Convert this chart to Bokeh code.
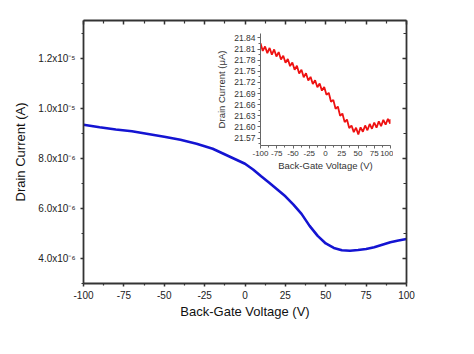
from bokeh.plotting import figure
from bokeh.models import Range1d, LinearAxis, FixedTicker, CustomJSTickFormatter
from bokeh.embed import file_html
from bokeh.resources import INLINE

# ---- main curve: drain current (A) vs back-gate voltage (V)
gate_v = [-100, -90, -80, -70, -60, -50, -40, -30, -20, -15, -10, -5, 0, 5, 10, 15, 20,
          25, 30, 35, 40, 45, 50, 55, 60, 65, 70, 75, 80, 85, 90, 95, 100]
drain_i = [9.34e-6, 9.24e-6, 9.15e-6, 9.08e-6, 8.97e-6, 8.86e-6, 8.74e-6, 8.58e-6, 8.38e-6,
           8.23e-6, 8.08e-6, 7.93e-6, 7.78e-6, 7.55e-6, 7.28e-6, 7.02e-6, 6.75e-6,
           6.48e-6, 6.15e-6, 5.78e-6, 5.30e-6, 4.90e-6, 4.60e-6, 4.42e-6, 4.33e-6, 4.31e-6,
           4.34e-6, 4.38e-6, 4.45e-6, 4.55e-6, 4.65e-6, 4.72e-6, 4.78e-6]

# ---- inset curve: drain current (uA) vs back-gate voltage (V)
inset_v = [-100, -96.5, -93, -89.5, -86, -82.5, -79, -75.5, -72, -68.5, -65, -61.5, -58,
           -54.5, -51, -47.5, -44, -40.5, -37, -33.5, -30, -26.5, -23, -19.5, -16, -12.5,
           -9, -5.5, -2, 1.5, 5, 8.5, 12, 15.5, 19, 22.5, 26, 29.5, 33, 36.5, 40, 43.5, 47,
           50.5, 54, 57.5, 61, 64.5, 68, 71.5, 75, 78.5, 82, 85.5, 89, 92.5, 96, 99.5, 100]
inset_i = [21.826, 21.805, 21.817, 21.799, 21.813, 21.795, 21.809, 21.790, 21.802, 21.782,
           21.792, 21.773, 21.783, 21.764, 21.774, 21.754, 21.765, 21.744, 21.754, 21.734,
           21.745, 21.725, 21.735, 21.716, 21.726, 21.707, 21.717, 21.698, 21.708, 21.687,
           21.692, 21.668, 21.673, 21.649, 21.655, 21.630, 21.636, 21.613, 21.620, 21.597,
           21.604, 21.586, 21.598, 21.580, 21.599, 21.587, 21.604, 21.591, 21.608, 21.595,
           21.612, 21.598, 21.615, 21.602, 21.619, 21.606, 21.622, 21.609, 21.621]

x_ticks = [-100, -75, -50, -25, 0, 25, 50, 75, 100]
x_minor = [-87.5, -62.5, -37.5, -12.5, 12.5, 37.5, 62.5, 87.5]
y_ticks = [4e-6, 6e-6, 8e-6, 1.0e-5, 1.2e-5]
y_minor = [3e-6, 5e-6, 7e-6, 9e-6, 1.1e-5, 1.3e-5]
inset_y_ticks = [21.57, 21.60, 21.63, 21.66, 21.69, 21.72, 21.75, 21.78, 21.81, 21.84]
inset_y_minor = [21.555, 21.585, 21.615, 21.645, 21.675, 21.705, 21.735, 21.765, 21.795, 21.825]

FONT = "Liberation Sans"
AX = "#333333"

sci_fmt = CustomJSTickFormatter(code="""
const sup = {'-':'\u207b','0':'\u2070','1':'\u00b9','2':'\u00b2','3':'\u00b3','4':'\u2074',
             '5':'\u2075','6':'\u2076','7':'\u2077','8':'\u2078','9':'\u2079'};
const e = Math.floor(Math.log10(Math.abs(tick)) + 1e-9);
const m = tick / Math.pow(10, e);
return m.toFixed(1) + 'x10' + String(e).split('').map(c => sup[c]).join('');
""")
int_fmt = CustomJSTickFormatter(code="return tick.toFixed(0);")
dec_fmt = CustomJSTickFormatter(code="return tick.toFixed(2);")
blank_fmt = CustomJSTickFormatter(code="return '';")

p = figure(width=474, height=354, x_range=Range1d(-100, 100), y_range=Range1d(3e-6, 1.35e-5),
           output_backend="svg", toolbar_location=None,
           min_border_left=83, min_border_right=68, min_border_top=20, min_border_bottom=71)
p.outline_line_color = None
p.xgrid.visible = False
p.ygrid.visible = False
p.background_fill_color = "white"
p.border_fill_color = "white"

p.line(gate_v, drain_i, line_color="#1414d2", line_width=2.6)

xt = FixedTicker(ticks=x_ticks, minor_ticks=x_minor)
yt = FixedTicker(ticks=y_ticks, minor_ticks=y_minor)

def style_axis(ax):
    ax.axis_line_color = AX
    ax.axis_line_width = 1.8
    ax.major_tick_line_color = AX
    ax.minor_tick_line_color = AX
    ax.major_tick_line_width = 1.5
    ax.minor_tick_line_width = 1.2
    ax.major_label_text_font = FONT
    ax.major_label_text_font_size = "10px"
    ax.major_label_text_color = "#222222"
    ax.axis_label_text_font = FONT
    ax.axis_label_text_font_size = "13px"
    ax.axis_label_text_font_style = "normal"
    ax.axis_label_text_color = "#111111"

xa = p.xaxis[0]
xa.ticker = xt
xa.formatter = int_fmt
style_axis(xa)
xa.major_tick_in = 0
xa.major_tick_out = 3
xa.minor_tick_in = 0
xa.minor_tick_out = 2
xa.major_label_standoff = 4
xa.axis_label = "Back-Gate Voltage (V)"
xa.axis_label_standoff = 2

ya = p.yaxis[0]
ya.ticker = yt
ya.formatter = sci_fmt
style_axis(ya)
ya.major_tick_in = 0
ya.major_tick_out = 3
ya.minor_tick_in = 0
ya.minor_tick_out = 2
ya.major_label_standoff = 5
ya.axis_label = "Drain Current (A)"
ya.axis_label_standoff = 7

top = LinearAxis(ticker=xt, formatter=blank_fmt)
style_axis(top)
top.major_tick_in = 4
top.major_tick_out = 0
top.minor_tick_in = 3
top.minor_tick_out = 0
p.add_layout(top, "above")

right = LinearAxis(ticker=yt, formatter=blank_fmt)
style_axis(right)
right.major_tick_in = 4
right.major_tick_out = 0
right.minor_tick_in = 3
right.minor_tick_out = 0
p.add_layout(right, "right")

# ---- inset
q = figure(width=181, height=152, x_range=Range1d(-100, 100), y_range=Range1d(21.55, 21.852),
           output_backend="svg", toolbar_location=None,
           min_border_left=48, min_border_right=3, min_border_top=9, min_border_bottom=31,
           styles={"position": "absolute", "left": "212px", "top": "24px"})
q.outline_line_color = None
q.xgrid.visible = False
q.ygrid.visible = False
q.background_fill_alpha = 0
q.border_fill_alpha = 0

q.line(inset_v, inset_i, line_color="#ee1111", line_width=1.8)

def style_inset(ax):
    ax.axis_line_color = "#666666"
    ax.axis_line_width = 1
    ax.major_tick_line_color = "#666666"
    ax.minor_tick_line_color = "#666666"
    ax.major_tick_in = 0
    ax.major_tick_out = 3
    ax.minor_tick_in = 0
    ax.minor_tick_out = 2
    ax.major_label_text_font = FONT
    ax.major_label_text_font_size = "8.5px"
    ax.major_label_text_color = "#333333"
    ax.axis_label_text_font = FONT
    ax.axis_label_text_font_size = "9.5px"
    ax.axis_label_text_font_style = "normal"
    ax.axis_label_text_color = "#333333"

qx = q.xaxis[0]
qx.ticker = FixedTicker(ticks=x_ticks, minor_ticks=x_minor)
qx.formatter = int_fmt
style_inset(qx)
qx.major_label_text_font_size = "8px"
qx.major_label_standoff = 2
qx.axis_label = "Back-Gate Voltage (V)"
qx.axis_label_standoff = 1

qy = q.yaxis[0]
qy.ticker = FixedTicker(ticks=inset_y_ticks, minor_ticks=inset_y_minor)
qy.formatter = dec_fmt
style_inset(qy)
qy.major_label_standoff = 2
qy.axis_label = "Drain Current (\u03bcA)"
qy.axis_label_standoff = 4

open("out.html", "w").write(file_html([p, q], INLINE))
